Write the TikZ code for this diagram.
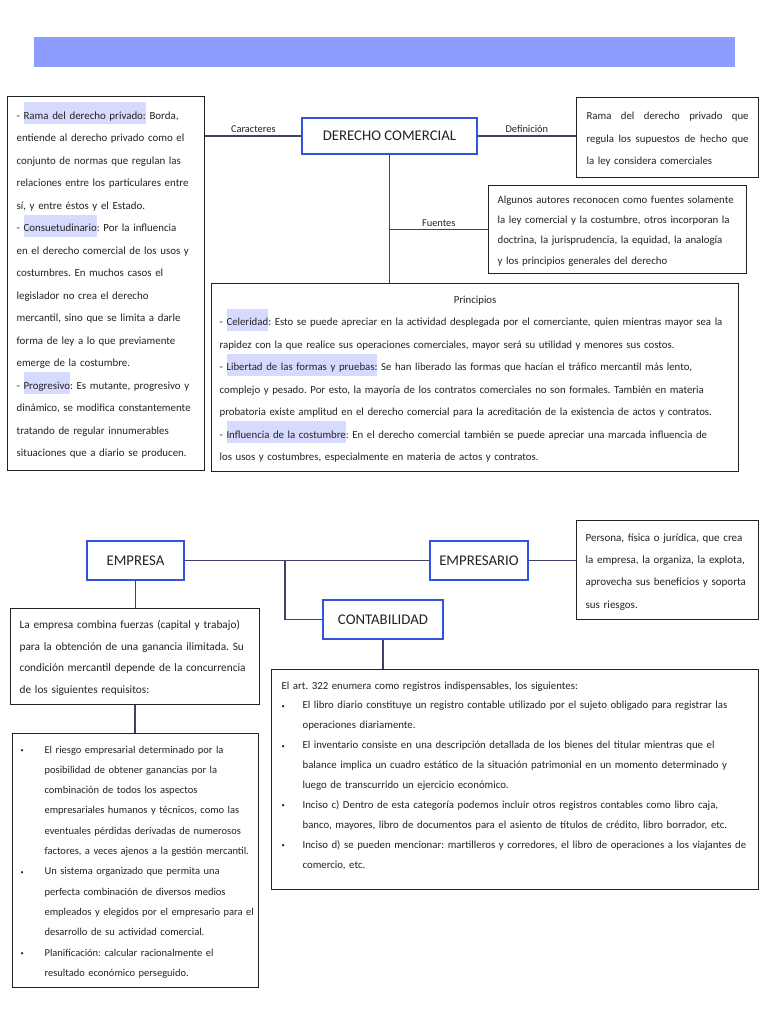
\documentclass[tikz,border=0pt]{standalone}
\usepackage{fontspec}
\setmainfont{Carlito}

\definecolor{bannerblue}{HTML}{8C9DFF}
\definecolor{hlblue}{HTML}{D7DAFF}
\definecolor{titleblue}{HTML}{3352E0}
\definecolor{linknavy}{HTML}{40406E}
\definecolor{boxgray}{HTML}{222222}
\definecolor{txtcol}{HTML}{222222}

\newcommand{\boxfont}[2]{\fontsize{#1}{#2}\selectfont\frenchspacing}
\newcommand{\lines}[1]{\begin{tabular}{@{}l@{}}#1\end{tabular}}
\newcommand{\hlt}[1]{\smash{\setlength{\fboxsep}{0pt}\colorbox{hlblue}{\rule[-5pt]{0pt}{22pt}#1}}}
\newcommand{\itm}[1][24pt]{\makebox[#1][l]{\raisebox{.1ex}{\scalebox{.6}{\textbullet}}}}
\newcommand{\hang}[1][24pt]{\hspace*{#1}}

\begin{document}
\begin{tikzpicture}[x=1pt,y=-1pt,
  txtbox/.style={draw=boxgray,line width=1.2pt,anchor=north west,align=left,
    inner xsep=9pt,inner ysep=0pt,text=txtcol},
  titlebox/.style={draw=titleblue,line width=1.2pt,inner sep=0pt,text=txtcol,
    font=\boxfont{14.8}{16}},
  link/.style={draw=linknavy,line width=1.8pt},
  tag/.style={text=txtcol,inner sep=2.5pt,font=\boxfont{10.4}{12}}]
\useasboundingbox (0,0) rectangle (768,1024);
\fill[bannerblue] (34,37) rectangle (735,67);

% derecho comercial
\node[titlebox,minimum width=175pt,minimum height=36pt] (dc) at (389.5,136) {DERECHO COMERCIAL};
\node[txtbox,minimum width=197pt,minimum height=374pt,text width=179pt,font=\boxfont{10.9}{22.5}] (carac) at (7,96)
{\lines{- \hlt{Rama del derecho privado:} Borda,\\
entiende al derecho privado como el\\
conjunto de normas que regulan las\\
relaciones entre los particulares entre\\
sí, y entre éstos y el Estado.\\
- \hlt{Consuetudinario}: Por la influencia\\
en el derecho comercial de los usos y\\
costumbres. En muchos casos el\\
legislador no crea el derecho\\
mercantil, sino que se limita a darle\\
forma de ley a lo que previamente\\
emerge de la costumbre.\\
- \hlt{Progresivo}: Es mutante, progresivo y\\
dinámico, se modifica constantemente\\
tratando de regular innumerables\\
situaciones que a diario se producen.}};
\node[txtbox,minimum width=182pt,minimum height=80pt,text width=162pt,inner xsep=10pt,font=\boxfont{10.8}{22.5}] (defin) at (576,97)
{\lines{\hbox to 162pt{Rama\hfill del\hfill derecho\hfill privado\hfill que}\\
\hbox to 162pt{regula\hfill los\hfill supuestos\hfill de\hfill hecho\hfill que}\\
la ley considera comerciales}};
\node[txtbox,minimum width=258pt,minimum height=88pt,text width=240pt,font=\boxfont{10.8}{20.4}] (fuentes) at (488,185)
{\lines{Algunos autores reconocen como fuentes solamente\\
la ley comercial y la costumbre, otros incorporan la\\
doctrina, la jurisprudencia, la equidad, la analogía\\
y los principios generales del derecho}};
\node[txtbox,minimum width=527pt,minimum height=188pt,text width=511pt,inner xsep=8pt,font=\boxfont{10.8}{22.5}] (princ) at (211,283)
{\lines{\makebox[511pt][c]{Principios}\\
- \hlt{Celeridad}: Esto se puede apreciar en la actividad desplegada por el comerciante, quien mientras mayor sea la\\
rapidez con la que realice sus operaciones comerciales, mayor será su utilidad y menores sus costos.\\
- \hlt{Libertad de las formas y pruebas:} Se han liberado las formas que hacían el tráfico mercantil más lento,\\
complejo y pesado. Por esto, la mayoría de los contratos comerciales no son formales. También en materia\\
probatoria existe amplitud en el derecho comercial para la acreditación de la existencia de actos y contratos.\\
- \hlt{Influencia de la costumbre}: En el derecho comercial también se puede apreciar una marcada influencia de\\
los usos y costumbres, especialmente en materia de actos y contratos.}};

\draw[link] (dc.west) -- (dc.west -| carac.east) node[tag,midway,above] {Caracteres};
\draw[link] (dc.east) -- (dc.east -| defin.west) node[tag,midway,above] {Definición};
\draw[link] (dc.south) -- (dc.south |- princ.north);
\coordinate (fj) at (dc.south |- fuentes.west);
\draw[link] (fj) -- (fuentes.west) node[tag,midway,above] {Fuentes};

% empresa
\node[titlebox,minimum width=97pt,minimum height=39pt] (empresa) at (135.5,560.5) {EMPRESA};
\node[titlebox,minimum width=98pt,minimum height=39pt] (empresario) at (479,560.5) {EMPRESARIO};
\node[titlebox,minimum width=120pt,minimum height=39pt] (contab) at (383,619.5) {CONTABILIDAD};
\node[txtbox,minimum width=182pt,minimum height=99pt,text width=164pt,font=\boxfont{11}{22.3}] (persona) at (576,520)
{\lines{Persona, física o jurídica, que crea\\
la empresa, la organiza, la explota,\\
aprovecha sus beneficios y soporta\\
sus riesgos.}};
\node[txtbox,minimum width=249pt,minimum height=96pt,text width=231pt,inner xsep=9pt,font=\boxfont{11.3}{21.5}] (laemp) at (10,608)
{\lines{La empresa combina fuerzas (capital y trabajo)\\
para la obtención de una ganancia ilimitada. Su\\
condición mercantil depende de la concurrencia\\
de los siguientes requisitos:}};
\node[txtbox,minimum width=246pt,minimum height=254pt,text width=230pt,inner xsep=8pt,font=\boxfont{10.5}{20.3}] (requis) at (12,733)
{\lines{\itm El riesgo empresarial determinado por la\\
\hang posibilidad de obtener ganancias por la\\
\hang combinación de todos los aspectos\\
\hang empresariales humanos y técnicos, como las\\
\hang eventuales pérdidas derivadas de numerosos\\
\hang factores, a veces ajenos a la gestión mercantil.\\
\itm Un sistema organizado que permita una\\
\hang perfecta combinación de diversos medios\\
\hang empleados y elegidos por el empresario para el\\
\hang desarrollo de su actividad comercial.\\
\itm Planificación: calcular racionalmente el\\
\hang resultado económico perseguido.}};
\node[txtbox,minimum width=487pt,minimum height=220pt,text width=467pt,inner xsep=10pt,font=\boxfont{10.8}{19.9}] (art) at (271,669)
{\lines{El art. 322 enumera como registros indispensables, los siguientes:\\
\itm[21pt]El libro diario constituye un registro contable utilizado por el sujeto obligado para registrar las\\
\hang[21pt]operaciones diariamente.\\
\itm[21pt]El inventario consiste en una descripción detallada de los bienes del titular mientras que el\\
\hang[21pt]balance implica un cuadro estático de la situación patrimonial en un momento determinado y\\
\hang[21pt]luego de transcurrido un ejercicio económico.\\
\itm[21pt]Inciso c) Dentro de esta categoría podemos incluir otros registros contables como libro caja,\\
\hang[21pt]banco, mayores, libro de documentos para el asiento de títulos de crédito, libro borrador, etc.\\
\itm[21pt]Inciso d) se pueden mencionar: martilleros y corredores, el libro de operaciones a los viajantes de\\
\hang[21pt]comercio, etc.\rule[-16pt]{0pt}{0pt}}};

\draw[link] (empresa.east) -- (empresario.west);
\coordinate (br) at (285,560.5);
\draw[link] (br) |- (contab.west);
\draw[link] (empresario.east) -- (empresario.east -| persona.west);
\draw[link] (empresa.south) -- (empresa.south |- laemp.north);
\draw[link] (laemp.south) -- (laemp.south |- requis.north);
\draw[link] (contab.south) -- (contab.south |- art.north);
\end{tikzpicture}
\end{document}
